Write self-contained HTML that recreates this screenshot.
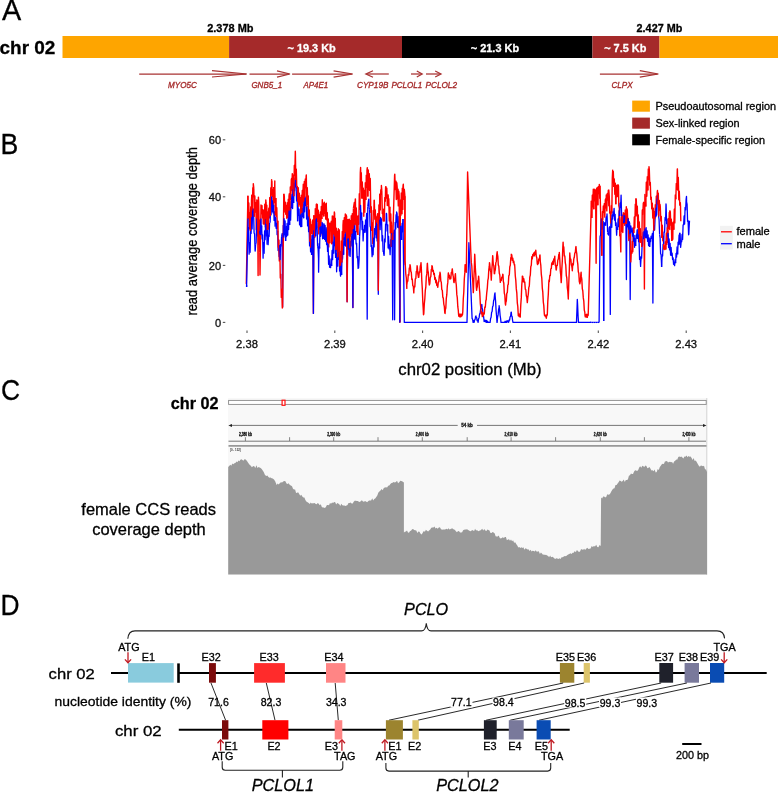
<!DOCTYPE html>
<html><head><meta charset="utf-8">
<style>
html,body{margin:0;padding:0;background:#fff;}
body{width:778px;height:792px;overflow:hidden;position:relative;}
svg{position:absolute;left:0;top:0;will-change:transform;}
text{font-family:"Liberation Sans",sans-serif;stroke:#000;stroke-width:0.3px;}
.wt{stroke:#fff;}
.gn text{stroke:#a52a2a;stroke-width:0.35px;}
.ns{stroke:none;}
.b{font-weight:bold;}
.i{font-style:italic;}
</style></head><body>
<svg width="778" height="792" viewBox="0 0 778 792">
<!-- ===== Panel A ===== -->
<text x="2.1" y="19.8" font-size="28.8" fill="#000">A</text>
<text x="-0.5" y="53.7" font-size="19" class="b" textLength="55.9" lengthAdjust="spacingAndGlyphs">chr 02</text>
<rect x="62.5" y="36" width="166.6" height="22" fill="#fea500"/>
<rect x="229.1" y="36" width="172.9" height="22" fill="#a52a2a"/>
<rect x="402" y="36" width="190.4" height="22" fill="#000"/>
<rect x="592.4" y="36" width="67.1" height="22" fill="#a52a2a"/>
<rect x="659.5" y="36" width="118.5" height="22" fill="#fea500"/>
<text x="207.2" y="31.5" font-size="11" class="b" textLength="46.3" lengthAdjust="spacingAndGlyphs">2.378 Mb</text>
<text x="636.6" y="31.5" font-size="11" class="b" textLength="45.7" lengthAdjust="spacingAndGlyphs">2.427 Mb</text>
<text x="287.5" y="51.8" font-size="11" class="b wt" fill="#fff" textLength="48.3" lengthAdjust="spacingAndGlyphs">~ 19.3 Kb</text>
<text x="470.8" y="51.8" font-size="11" class="b wt" fill="#fff" textLength="48.3" lengthAdjust="spacingAndGlyphs">~ 21.3 Kb</text>
<text x="604.2" y="52" font-size="11" class="b wt" fill="#fff" textLength="42.2" lengthAdjust="spacingAndGlyphs">~ 7.5 Kb</text>
<g stroke="#a83232" fill="none" stroke-width="1.25">
<line x1="139.2" y1="74" x2="246" y2="74"/><polyline points="212,70.6 247,74 212,77"/>
<line x1="249.5" y1="74" x2="289" y2="74"/><polyline points="277,70.8 290,74 277,77.2"/>
<line x1="292.1" y1="74" x2="351.8" y2="74"/><polyline points="333.6,70.8 352.8,74 333.6,77.2"/>
<line x1="367" y1="74" x2="388.8" y2="74"/><polyline points="373,70.8 365.9,74 373,77.2"/>
<line x1="411" y1="74" x2="421.5" y2="74"/><polyline points="416.8,71 422.2,74 416.8,77"/>
<line x1="426" y1="74" x2="440.3" y2="74"/><polyline points="435.2,71 441,74 435.2,77"/>
<line x1="599.9" y1="74" x2="657.4" y2="74"/><polyline points="639.8,70.6 658.4,74 639.8,77.2"/>
</g>
<g class="gn" fill="#a52a2a" font-size="9" font-style="italic">
<text x="168.1" y="88.3" textLength="28.7" lengthAdjust="spacingAndGlyphs">MYO5C</text>
<text x="251.4" y="88.3" textLength="30.7" lengthAdjust="spacingAndGlyphs">GNB5_1</text>
<text x="303.5" y="88.3" textLength="24.7" lengthAdjust="spacingAndGlyphs">AP4E1</text>
<text x="357" y="88.3" textLength="31.4" lengthAdjust="spacingAndGlyphs">CYP19B</text>
<text x="391.4" y="88.3" textLength="30.8" lengthAdjust="spacingAndGlyphs">PCLOL1</text>
<text x="425.5" y="88.3" textLength="31.5" lengthAdjust="spacingAndGlyphs">PCLOL2</text>
<text x="611.5" y="88.3" textLength="21.2" lengthAdjust="spacingAndGlyphs">CLPX</text>
</g>
<rect x="632.2" y="100.6" width="17.7" height="11.1" fill="#fea500"/>
<rect x="632.2" y="117.6" width="17.7" height="11.1" fill="#a52a2a"/>
<rect x="632.2" y="134.2" width="17.7" height="11.1" fill="#000"/>
<g font-size="10.9">
<text x="655.5" y="110.4" textLength="120.5" lengthAdjust="spacingAndGlyphs">Pseudoautosomal region</text>
<text x="655.5" y="127.3">Sex-linked region</text>
<text x="655.5" y="143.6">Female-specific region</text>
</g>
<!-- ===== Panel B ===== -->
<text x="0.5" y="153.7" font-size="28.8" textLength="17.8" lengthAdjust="spacingAndGlyphs">B</text>
<text transform="translate(196.8,315.6) rotate(-90)" x="0" y="0" font-size="14.2" textLength="168.4" lengthAdjust="spacingAndGlyphs">read average coverage depth</text>
<g font-size="11.1" text-anchor="end" fill="#222">
<text x="221.2" y="143.9">60</text>
<text x="221.2" y="200.8">40</text>
<text x="221.2" y="269.6">20</text>
<text x="221.2" y="326.6">0</text>
</g>
<g stroke="#555" stroke-width="1.1">
<line x1="222.8" y1="139.8" x2="225.3" y2="139.8"/>
<line x1="222.8" y1="196.8" x2="225.3" y2="196.8"/>
<line x1="222.8" y1="265.4" x2="225.3" y2="265.4"/>
<line x1="222.8" y1="322.4" x2="225.3" y2="322.4"/>
<line x1="247" y1="330.4" x2="247" y2="333"/>
<line x1="334.8" y1="330.4" x2="334.8" y2="333"/>
<line x1="422.6" y1="330.4" x2="422.6" y2="333"/>
<line x1="510.4" y1="330.4" x2="510.4" y2="333"/>
<line x1="598.3" y1="330.4" x2="598.3" y2="333"/>
<line x1="686.2" y1="330.4" x2="686.2" y2="333"/>
</g>
<g font-size="11.2" text-anchor="middle" fill="#222">
<text x="247" y="347.9">2.38</text>
<text x="334.8" y="347.9">2.39</text>
<text x="422.6" y="347.9">2.40</text>
<text x="510.4" y="347.9">2.41</text>
<text x="598.3" y="347.9">2.42</text>
<text x="686.2" y="347.9">2.43</text>
</g>
<text x="398.3" y="375.2" font-size="16.5" textLength="143.4" lengthAdjust="spacingAndGlyphs">chr02 position (Mb)</text>
<g fill="none" stroke-linejoin="round">
<polyline points="404.3,322.4 404.6,322.4 405.1,322.4 405.6,322.4 406.1,322.4 406.6,322.4 407.1,322.4 407.6,322.4 408.1,322.4 408.6,322.4 409.1,322.4 409.6,322.4 410.1,322.4 410.6,322.4 411.1,322.4 411.6,322.4 412.1,322.4 412.6,322.4 413.1,322.4 413.6,322.4 414.1,322.4 414.6,322.4 415.1,322.4 415.6,322.4 416.1,322.4 416.6,322.4 417.1,322.4 417.6,322.4 418.1,322.4 418.6,322.4 419.1,322.4 419.6,322.4 420.1,322.4 420.6,322.4 421.1,322.4 421.6,322.4 422.1,322.4 422.6,322.4 423.1,322.4 423.6,322.4 424.1,322.4 424.6,322.4 425.1,322.4 425.6,322.4 426.1,322.4 426.6,322.4 427.1,322.4 427.6,322.4 428.1,322.4 428.6,322.4 429.1,322.4 429.6,322.4 430.1,322.4 430.6,322.4 431.1,322.4 431.6,322.4 432.1,322.4 432.6,322.4 433.1,322.4 433.6,322.4 434.1,322.4 434.6,322.4 435.1,322.4 435.6,322.4 436.1,322.4 436.6,322.4 437.1,322.4 437.6,322.4 438.1,322.4 438.6,322.4 439.1,322.4 439.6,322.4 440.1,322.4 440.6,322.4 441.1,322.4 441.6,322.4 442.1,322.4 442.6,322.4 443.1,322.4 443.6,322.4 444.1,322.4 444.6,322.4 445.1,322.4 445.6,322.4 446.1,322.4 446.6,322.4 447.1,322.4 447.6,322.4 448.1,322.4 448.6,322.4 449.1,322.4 449.6,322.4 450.1,322.4 450.6,322.4 451.1,322.4 451.6,322.4 452.1,322.4 452.6,322.4 453.1,322.4 453.6,322.4 454.1,322.4 454.6,322.4 455.1,322.4 455.6,322.4 456.1,322.4 456.6,322.4 457.1,322.4 457.6,322.4 458.1,322.4 458.6,322.4 459.1,322.4 459.6,322.4 460.1,322.4 460.6,322.4 461.1,322.4 461.6,322.4 462.1,322.4 462.6,322.4 463.1,322.4 463.6,322.4 464.1,322.4 464.6,322.4 465.1,322.4 465.6,322.4 466.1,322.4 466.6,322.4 467.0,322.4 468.9,242.7 472.1,318.5 472.6,319.2 473.1,322.3 473.6,320.6 474.0,322.0 474.1,322.4 474.6,320.0 475.1,319.5 475.6,316.4 476.0,316.0 476.1,317.3 476.6,317.3 477.1,320.6 477.6,320.3 478.0,322.0 478.1,322.4 478.6,318.6 479.1,317.7 479.6,314.0 480.1,313.3 480.6,309.5 481.1,308.7 481.6,305.1 481.8,304.4 482.1,307.9 482.6,309.7 483.1,314.7 483.6,316.6 484.0,320.0 484.1,321.5 484.6,320.2 485.1,321.4 485.6,320.3 486.1,322.4 486.6,320.3 487.1,322.4 487.6,321.4 488.1,322.4 488.6,322.4 489.1,322.4 489.6,322.4 490.0,322.4 490.1,322.4 490.6,318.5 491.1,317.3 491.6,312.4 492.1,311.5 492.6,306.6 493.1,305.9 493.6,300.8 494.1,299.3 494.6,294.5 495.0,292.8 495.1,295.2 495.6,301.4 496.1,310.8 496.6,316.4 497.0,322.4 497.1,322.4 497.6,317.1 498.1,314.9 498.6,309.4 499.1,307.4 499.1,305.7 499.6,309.4 500.1,315.3 500.6,318.5 501.0,322.4 501.1,322.4 501.6,322.4 502.1,322.4 502.6,322.4 503.1,322.4 503.6,322.4 504.1,322.4 504.6,322.4 505.1,321.3 505.6,322.4 506.1,321.4 506.6,322.4 507.1,320.7 507.6,321.9 508.1,321.0 508.6,322.4 509.0,321.0 509.1,320.0 509.6,320.2 510.1,316.7 510.6,316.4 511.1,312.1 511.3,312.1 511.6,315.9 512.1,316.4 512.6,320.6 513.0,322.4 513.1,322.4 513.6,322.4 514.1,322.4 514.6,322.4 515.1,322.4 515.6,322.4 516.1,322.4 516.6,322.4 517.1,322.4 517.6,322.4 518.1,322.4 518.6,322.4 519.1,322.4 519.6,322.4 520.1,322.4 520.6,322.4 521.1,322.4 521.6,322.4 522.1,322.4 522.6,322.4 523.1,322.4 523.6,322.4 524.1,322.4 524.6,322.4 525.1,322.4 525.6,322.4 526.1,322.4 526.6,322.4 527.1,322.4 527.6,322.4 528.1,322.4 528.6,322.4 529.1,322.4 529.6,322.4 530.1,322.4 530.6,322.4 531.1,322.4 531.6,322.4 532.1,322.4 532.6,322.4 533.1,322.4 533.6,322.4 534.1,322.4 534.6,322.4 535.1,322.4 535.6,322.4 536.1,322.4 536.6,322.4 537.1,322.4 537.6,322.4 538.1,322.4 538.6,322.4 539.1,322.4 539.6,322.4 540.1,322.4 540.6,322.4 541.1,322.4 541.6,322.4 542.1,322.4 542.6,322.4 543.1,322.4 543.6,322.4 544.1,322.4 544.6,322.4 545.1,322.4 545.6,322.4 546.1,322.4 546.6,322.4 547.1,322.4 547.6,322.4 548.1,322.4 548.6,322.4 549.1,322.4 549.6,322.4 550.1,322.4 550.6,322.4 551.1,322.4 551.6,322.4 552.1,322.4 552.6,322.4 553.1,322.4 553.6,322.4 554.1,322.4 554.6,322.4 555.1,322.4 555.6,322.4 556.1,322.4 556.6,322.4 557.1,322.4 557.6,322.4 558.1,322.4 558.6,322.4 559.1,322.4 559.6,322.4 560.1,322.4 560.6,322.4 561.1,322.4 561.6,322.4 562.1,322.4 562.6,322.4 563.1,322.4 563.6,322.4 564.1,322.4 564.6,322.4 565.1,322.4 565.6,322.4 566.1,322.4 566.6,322.4 567.1,322.4 567.6,322.4 568.1,322.4 568.6,322.4 569.1,322.4 569.6,322.4 570.1,322.4 570.6,322.4 571.1,322.4 571.6,322.4 572.1,322.4 572.6,322.4 573.1,322.4 573.6,322.4 574.1,322.4 574.6,322.4 575.1,322.4 575.6,322.4 576.1,322.4 576.5,322.4 576.6,318.8 577.1,306.0 577.3,299.3 577.6,304.6 578.1,316.6 578.5,322.4 578.6,322.4 579.1,322.4 579.6,322.4 580.1,322.4 580.6,322.4 581.1,322.4 581.6,322.4 582.1,322.4 582.6,322.4 583.1,322.4 583.6,322.4 584.1,322.4 584.6,322.4 585.1,322.4 585.6,322.4 586.1,322.4 586.6,322.4 587.1,322.4 587.6,322.4 588.1,322.4 588.6,322.4 589.1,322.4 589.6,322.4 590.1,322.4 590.6,322.4 591.1,322.4" stroke="#0000ff" stroke-width="1.3"/>
<polyline points="403.8,199.8 404.3,189.4 404.8,198.7 404.9,196.4 404.9,260.7 405.3,265.2 405.8,274.1 406.3,277.8 406.8,288.4 406.8,285.1 407.3,281.4 407.8,281.1 408.3,274.4 408.8,275.3 409.3,268.0 409.8,268.1 410.0,264.6 410.3,265.8 410.8,271.4 411.3,272.3 411.8,279.5 412.3,279.0 412.8,285.9 413.3,286.1 413.8,292.9 413.9,290.3 414.3,286.1 414.8,286.9 415.3,278.9 415.8,278.7 416.3,271.5 416.8,271.4 417.1,265.8 417.3,266.6 417.8,273.9 418.3,276.4 418.4,277.4 418.8,277.3 419.3,271.6 419.8,272.4 420.3,266.0 420.8,264.9 421.0,262.6 421.3,267.9 421.8,280.5 422.3,288.7 422.8,301.6 423.3,310.1 423.5,314.7 423.8,313.7 424.3,304.0 424.8,299.0 425.3,290.4 425.8,287.2 426.3,276.8 426.8,273.9 427.3,263.5 427.4,263.3 427.8,270.1 428.3,272.5 428.8,280.6 429.3,284.8 429.3,285.1 429.8,283.7 430.3,277.3 430.8,276.8 431.3,269.5 431.8,268.9 431.9,265.8 432.3,266.2 432.8,271.4 433.3,270.4 433.8,274.5 434.3,273.3 434.8,279.4 435.3,277.6 435.8,282.8 436.3,280.3 436.8,285.5 437.3,284.3 437.7,286.4 437.8,287.3 438.3,282.1 438.8,281.9 439.3,275.9 439.8,274.6 440.0,272.3 440.3,273.6 440.8,281.1 441.3,282.3 441.8,289.8 442.3,290.2 442.8,297.1 443.3,298.1 443.8,304.1 444.3,306.3 444.8,313.0 445.1,313.4 445.3,309.8 445.8,308.1 446.3,298.3 446.8,294.7 447.3,286.2 447.8,282.4 448.3,273.1 448.4,272.9 448.8,277.4 449.3,275.1 449.8,279.0 450.3,278.5 450.3,278.7 450.8,278.7 451.3,272.5 451.8,272.5 452.2,269.1 452.3,268.9 452.8,274.5 453.3,276.7 453.8,282.1 454.1,282.6 454.3,280.4 454.8,279.6 455.3,273.9 455.4,273.6 455.8,281.3 456.3,285.0 456.8,294.4 457.3,297.9 457.8,306.7 458.3,310.5 458.6,314.7 458.8,316.2 459.3,314.1 459.8,316.8 460.3,314.2 460.8,316.8 461.3,314.1 461.8,316.1 462.3,314.5 462.5,314.7 462.8,311.5 463.3,298.5 463.8,292.0 464.3,279.0 464.8,272.9 465.1,264.6 465.3,264.9 465.8,270.7 466.3,271.4 466.3,272.3 467.6,172.0 470.8,251.7 471.3,262.4 471.8,266.0 472.3,276.5 472.8,282.0 473.3,292.6 473.4,291.6 473.8,279.9 474.3,269.3 474.7,254.3 474.8,255.1 475.3,267.0 475.8,274.9 476.3,287.4 476.6,290.3 476.8,288.6 477.3,286.6 477.8,280.8 478.3,280.3 478.6,276.1 478.8,278.0 479.3,287.5 479.8,292.9 480.3,303.3 480.8,307.8 481.1,312.1 481.3,313.8 481.8,312.0 482.3,316.6 482.8,312.6 483.3,315.6 483.7,314.7 483.8,313.5 484.3,313.8 484.8,307.0 485.3,307.2 485.8,301.0 486.3,299.2 486.3,298.0 486.8,292.3 487.3,288.1 487.8,280.7 488.3,278.2 488.8,269.7 489.3,266.2 489.5,262.6 489.8,264.7 490.3,270.4 490.8,271.7 491.3,280.1 491.4,277.4 491.8,269.6 492.3,263.6 492.7,255.6 492.8,256.5 493.3,264.7 493.8,265.5 494.3,273.7 494.6,273.6 494.8,271.5 495.3,269.9 495.8,262.9 496.3,261.4 496.8,254.3 497.2,251.7 497.3,253.7 497.8,256.4 498.3,265.0 498.8,266.3 499.3,273.3 499.8,274.9 500.3,282.4 500.4,281.3 500.8,280.1 501.3,280.5 501.8,277.2 502.3,277.6 502.8,274.2 503.0,274.8 503.3,281.3 503.8,283.2 504.3,293.1 504.8,295.0 505.3,303.6 505.6,305.0 505.8,302.5 506.3,301.1 506.8,293.1 507.3,292.9 507.8,285.1 508.3,284.3 508.8,275.6 509.3,275.0 509.8,266.7 510.3,265.2 510.8,257.7 511.3,257.5 511.3,254.3 511.8,255.0 512.3,260.4 512.8,258.1 513.3,262.6 513.8,261.2 514.3,264.9 514.6,264.6 514.8,266.8 515.3,276.0 515.8,280.4 516.3,288.9 516.8,292.8 517.3,302.8 517.8,306.5 518.3,315.7 518.4,314.7 518.8,313.9 519.3,316.6 519.8,313.9 520.3,317.1 520.3,314.7 520.8,304.4 521.3,297.4 521.8,284.6 522.3,278.7 522.3,276.1 522.8,276.6 523.3,281.6 523.8,278.8 524.3,282.4 524.8,281.9 524.8,282.6 525.3,289.2 525.8,289.7 526.3,295.7 526.8,297.3 527.3,302.6 527.4,301.8 527.8,297.4 528.3,294.1 528.8,287.5 529.3,286.1 529.8,277.2 530.3,275.2 530.8,266.7 531.3,265.3 531.8,256.7 531.9,256.9 532.3,258.8 532.8,254.4 533.3,255.8 533.8,253.0 534.3,255.8 534.8,252.0 535.3,254.6 535.8,250.2 535.8,250.4 536.3,256.3 536.8,257.7 537.3,263.9 537.7,264.6 537.8,263.4 538.3,263.3 538.8,258.9 539.3,260.0 539.8,255.2 540.0,255.0 540.3,261.5 540.8,265.3 541.3,274.2 541.8,278.3 542.3,288.2 542.8,292.2 543.3,302.0 543.8,305.6 544.3,313.7 544.5,315.3 544.8,315.0 545.3,316.5 545.8,315.1 546.3,318.2 546.8,314.8 547.1,315.3 547.3,314.8 547.8,301.4 548.3,294.2 548.8,282.5 549.0,280.0 549.3,281.6 549.8,275.2 550.3,275.6 550.8,268.8 551.3,268.6 551.6,264.6 551.8,263.0 552.3,264.7 552.8,261.3 553.3,264.2 553.8,258.9 554.3,260.8 554.8,256.3 554.8,257.5 555.3,265.2 555.8,266.2 556.1,269.7 556.3,270.0 556.8,265.2 557.3,265.4 557.8,260.3 558.3,259.0 558.8,254.5 559.3,253.8 559.3,252.4 559.8,259.8 560.3,271.0 560.8,275.7 561.2,282.6 561.3,282.2 561.8,269.1 562.3,261.2 562.8,247.6 563.1,242.1 563.3,246.2 563.8,247.0 564.3,255.9 564.8,255.9 565.3,262.8 565.7,264.6 565.8,265.7 566.3,275.5 566.8,277.8 567.3,287.7 567.8,291.1 568.3,299.0 568.3,298.0 568.8,282.4 569.3,270.8 569.8,252.9 569.8,253.6 570.3,259.4 570.8,259.1 571.3,264.8 571.8,266.2 572.1,268.4 572.3,270.7 572.8,263.4 573.3,264.9 573.8,258.9 574.3,257.3 574.8,253.0 575.3,252.6 575.8,247.0 576.0,246.6 576.3,250.8 576.8,253.8 577.3,260.6 577.8,264.1 578.3,271.8 578.8,273.3 579.3,281.5 579.8,283.4 579.8,283.8 580.3,281.6 580.8,274.7 581.1,272.3 581.3,276.4 581.8,279.1 582.3,288.6 582.8,291.0 583.3,297.9 583.8,301.1 584.3,310.2 584.8,312.2 585.0,315.3 585.3,316.9 585.8,314.8 586.3,317.0 586.8,314.3 587.3,317.3 587.8,314.5 588.2,315.3 591.4,200.8" stroke="#ff0000" stroke-width="1.4"/>
<path d="M246.6,285.1 L246.6,287.0" stroke="#0000ff" stroke-width="1.3"/>
<path d="M246.3,282.0 L246.3,283.8 L247.9,195.8" stroke="#ff0000" stroke-width="1.4"/>
<path d="M247.9,195.8 L248.3,218.6 L248.8,202.9 L249.3,228.9 L249.5,215.0 L249.8,211.9" stroke="#ff0000" stroke-width="1.4"/>
<path d="M246.6,287.0 L248.0,219.0 L248.1,233.9 L248.6,227.4 L249.1,254.2 L249.5,246.0 L249.6,242.3" stroke="#0000ff" stroke-width="1.3"/>
<path d="M249.6,242.3 L250.1,252.3 L250.6,229.8 L251.0,224.0 L251.1,233.4 L251.6,217.3" stroke="#0000ff" stroke-width="1.3"/>
<path d="M249.8,211.9 L250.3,230.6 L250.4,211.8 L250.8,206.8 L251.3,219.3 L251.5,200.0 L251.8,194.7" stroke="#ff0000" stroke-width="1.4"/>
<path d="M251.8,194.7 L252.3,214.9 L252.8,187.8 L253.3,196.9 L253.3,183.6 L253.8,188.3" stroke="#ff0000" stroke-width="1.4"/>
<path d="M251.6,217.3 L252.1,228.9 L252.6,210.9 L253.1,216.4 L253.3,209.0 L253.6,213.7" stroke="#0000ff" stroke-width="1.3"/>
<path d="M253.6,213.7 L254.1,233.0 L254.6,234.0 L255.1,251.0 L255.3,250.0 L255.6,244.5" stroke="#0000ff" stroke-width="1.3"/>
<path d="M253.8,188.3 L254.3,216.2 L254.8,195.9 L255.3,212.2 L255.6,206.7 L255.8,202.1" stroke="#ff0000" stroke-width="1.4"/>
<path d="M255.8,202.1 L256.3,229.7 L256.8,200.0 L257.6,200.0" stroke="#ff0000" stroke-width="1.4"/>
<path d="M255.6,244.5 L256.1,242.6 L256.6,225.5 L257.0,219.0 L257.1,235.1 L257.6,222.7" stroke="#0000ff" stroke-width="1.3"/>
<path d="M257.6,222.7 L258.1,236.6 L258.6,232.6 L259.0,239.0 L259.1,244.4 L259.6,231.1" stroke="#0000ff" stroke-width="1.3"/>
<path d="M257.6,200.0 L258.1,275.5 L258.4,197.1 L258.7,202.3 L259.3,234.8 L259.5,220.0 L259.8,252.4" stroke="#ff0000" stroke-width="1.4"/>
<path d="M259.8,252.4 L260.0,275.0 L261.0,205.0 L261.3,214.0 L261.8,205.3" stroke="#ff0000" stroke-width="1.4"/>
<path d="M259.6,231.1 L260.1,234.2 L260.6,223.0 L261.0,219.0 L261.1,234.7 L261.6,225.4" stroke="#0000ff" stroke-width="1.3"/>
<path d="M261.6,225.4 L262.1,239.1 L262.6,234.8 L263.1,258.2 L263.3,246.0 L263.6,242.0" stroke="#0000ff" stroke-width="1.3"/>
<path d="M261.8,205.3 L262.3,217.7 L262.8,209.6 L263.3,224.0 L263.3,211.8 L263.8,209.7" stroke="#ff0000" stroke-width="1.4"/>
<path d="M263.8,209.7 L264.3,224.1 L264.8,204.2 L265.3,227.1 L265.8,199.9 L265.9,201.6" stroke="#ff0000" stroke-width="1.4"/>
<path d="M263.6,242.0 L264.1,253.3 L264.6,230.9 L265.1,239.7 L265.6,221.5 L265.9,219.0" stroke="#0000ff" stroke-width="1.3"/>
<path d="M265.9,219.0 L266.1,235.9 L266.6,222.5 L267.1,244.2 L267.6,229.9" stroke="#0000ff" stroke-width="1.3"/>
<path d="M265.9,201.6 L266.3,223.5 L266.8,205.1 L267.3,230.1 L267.8,211.5" stroke="#ff0000" stroke-width="1.4"/>
<path d="M267.8,211.5 L268.3,229.2 L268.4,217.0 L268.8,208.3 L269.3,218.0 L269.8,197.3" stroke="#ff0000" stroke-width="1.4"/>
<path d="M267.6,229.9 L268.1,244.7 L268.4,239.0 L268.6,235.3 L269.1,236.4 L269.6,222.7" stroke="#0000ff" stroke-width="1.3"/>
<path d="M269.6,222.7 L270.1,222.0 L270.6,208.9 L271.1,214.8 L271.6,196.6 L271.6,196.6" stroke="#0000ff" stroke-width="1.3"/>
<path d="M269.8,197.3 L270.3,215.5 L270.8,187.8 L271.3,195.2 L271.6,179.7 L271.8,180.7" stroke="#ff0000" stroke-width="1.4"/>
<path d="M271.8,180.7 L272.3,196.4 L272.8,189.7 L273.0,195.0 L273.3,208.4 L273.8,187.1" stroke="#ff0000" stroke-width="1.4"/>
<path d="M271.6,196.6 L272.1,211.7 L272.6,201.0 L273.1,213.0 L273.6,205.0" stroke="#0000ff" stroke-width="1.3"/>
<path d="M273.6,205.0 L274.1,220.4 L274.6,212.0 L274.8,214.0 L275.1,226.2 L275.6,217.3" stroke="#0000ff" stroke-width="1.3"/>
<path d="M273.8,187.1 L274.3,202.5 L274.8,181.0 L274.8,184.8 L275.3,214.7 L275.8,198.1" stroke="#ff0000" stroke-width="1.4"/>
<path d="M275.8,198.1 L276.3,216.3 L276.8,207.7 L277.3,228.3 L277.8,220.7" stroke="#ff0000" stroke-width="1.4"/>
<path d="M275.6,217.3 L276.1,228.3 L276.6,223.3 L277.0,229.0 L277.1,234.7 L277.6,230.8" stroke="#0000ff" stroke-width="1.3"/>
<path d="M277.6,230.8 L278.1,250.6 L278.6,239.6 L279.1,256.6 L279.6,245.2" stroke="#0000ff" stroke-width="1.3"/>
<path d="M277.8,220.7 L278.0,227.3 L278.3,247.2 L278.8,240.1 L279.3,261.0 L279.8,253.6" stroke="#ff0000" stroke-width="1.4"/>
<path d="M279.8,253.6 L280.0,260.0 L280.3,278.1 L280.8,274.1 L281.3,297.4 L281.8,288.7" stroke="#ff0000" stroke-width="1.4"/>
<path d="M279.6,245.2 L280.0,249.0 L280.1,259.5 L280.6,244.5 L281.1,246.1 L281.6,236.5" stroke="#0000ff" stroke-width="1.3"/>
<path d="M281.6,236.5 L282.1,233.6 L282.6,307.0 L283.2,225.4 L283.6,237.5" stroke="#0000ff" stroke-width="1.3"/>
<path d="M281.8,288.7 L282.3,308.0 L282.6,307.0 L283.8,193.8" stroke="#ff0000" stroke-width="1.4"/>
<path d="M283.8,193.8 L284.3,196.3 L284.8,212.0 L285.3,202.3 L285.8,214.6" stroke="#ff0000" stroke-width="1.4"/>
<path d="M283.6,237.5 L284.0,219.0 L284.1,218.8 L284.6,234.8 L285.1,220.8 L285.6,241.0" stroke="#0000ff" stroke-width="1.3"/>
<path d="M285.6,241.0 L286.1,226.7 L286.4,229.0 L286.6,236.6 L287.1,223.4 L287.6,235.6" stroke="#0000ff" stroke-width="1.3"/>
<path d="M285.8,214.6 L286.3,205.5 L286.4,209.3 L286.8,218.3 L287.3,202.6 L287.8,218.3" stroke="#ff0000" stroke-width="1.4"/>
<path d="M287.8,218.3 L288.3,199.1 L288.8,218.5 L289.0,196.4 L289.3,193.8 L289.8,210.4" stroke="#ff0000" stroke-width="1.4"/>
<path d="M287.6,235.6 L288.1,218.9 L288.6,229.5 L289.0,214.0 L289.1,211.0 L289.6,225.0" stroke="#0000ff" stroke-width="1.3"/>
<path d="M289.6,225.0 L290.1,207.5 L290.6,220.2 L291.1,201.6 L291.6,207.6 L291.6,199.0" stroke="#0000ff" stroke-width="1.3"/>
<path d="M289.8,210.4 L290.3,186.9 L290.8,199.4 L291.3,179.6 L291.6,178.4 L291.8,190.8" stroke="#ff0000" stroke-width="1.4"/>
<path d="M291.8,190.8 L292.3,173.6 L292.8,199.2 L293.3,174.9 L293.5,175.8 L293.8,196.2" stroke="#ff0000" stroke-width="1.4"/>
<path d="M291.6,199.0 L292.1,194.4 L292.6,208.5 L293.1,189.7 L293.6,203.0" stroke="#0000ff" stroke-width="1.3"/>
<path d="M293.6,203.0 L294.1,183.5 L294.6,190.6 L295.1,178.6 L295.4,177.9 L295.6,187.4" stroke="#0000ff" stroke-width="1.3"/>
<path d="M293.8,196.2 L294.3,165.5 L294.8,175.4 L295.3,151.2 L295.4,153.4 L295.8,180.0" stroke="#ff0000" stroke-width="1.4"/>
<path d="M295.8,180.0 L296.3,169.1 L296.8,188.4 L297.3,186.5 L297.3,187.4 L297.8,201.7" stroke="#ff0000" stroke-width="1.4"/>
<path d="M295.6,187.4 L296.1,187.3 L296.6,200.9 L297.1,199.2 L297.3,204.0 L297.6,221.3" stroke="#0000ff" stroke-width="1.3"/>
<path d="M297.6,221.3 L298.1,207.2 L298.6,215.3 L299.1,209.2 L299.6,225.2" stroke="#0000ff" stroke-width="1.3"/>
<path d="M297.8,201.7 L298.3,187.8 L298.8,206.5 L299.3,193.2 L299.8,205.3" stroke="#ff0000" stroke-width="1.4"/>
<path d="M299.8,205.3 L300.3,197.6 L300.6,199.0 L300.8,216.6 L301.3,195.1 L301.8,212.8" stroke="#ff0000" stroke-width="1.4"/>
<path d="M299.6,225.2 L300.1,215.5 L300.6,226.5 L300.6,219.0 L301.1,214.2 L301.6,227.1" stroke="#0000ff" stroke-width="1.3"/>
<path d="M301.6,227.1 L302.1,208.6 L302.6,216.5 L303.1,203.8 L303.1,204.0 L303.6,218.2" stroke="#0000ff" stroke-width="1.3"/>
<path d="M301.8,212.8 L302.3,190.5 L302.8,206.0 L303.1,188.7 L303.3,184.1 L303.8,202.5" stroke="#ff0000" stroke-width="1.4"/>
<path d="M303.8,202.5 L304.3,181.5 L304.8,205.4 L305.3,179.0 L305.8,188.3" stroke="#ff0000" stroke-width="1.4"/>
<path d="M303.6,218.2 L304.1,202.2 L304.6,211.8 L305.1,198.2 L305.6,206.1" stroke="#0000ff" stroke-width="1.3"/>
<path d="M305.6,206.1 L306.1,196.8 L306.1,199.0 L306.6,219.0 L307.1,206.2 L307.6,226.3" stroke="#0000ff" stroke-width="1.3"/>
<path d="M305.8,188.3 L306.1,176.5 L306.3,174.9 L306.8,206.3 L307.3,187.8 L307.8,205.1" stroke="#ff0000" stroke-width="1.4"/>
<path d="M307.8,205.1 L308.3,196.0 L308.3,199.0 L308.8,229.8 L309.3,210.0 L309.8,241.8" stroke="#ff0000" stroke-width="1.4"/>
<path d="M307.6,226.3 L308.1,216.9 L308.3,219.0 L308.6,231.7 L309.1,226.6 L309.6,246.3" stroke="#0000ff" stroke-width="1.3"/>
<path d="M309.6,246.3 L310.1,236.1 L310.6,251.9 L310.8,244.0 L311.1,239.7 L311.6,254.9" stroke="#0000ff" stroke-width="1.3"/>
<path d="M309.8,241.8 L310.3,219.1 L310.8,247.3 L310.8,228.5 L311.3,224.7 L311.8,234.0" stroke="#ff0000" stroke-width="1.4"/>
<path d="M311.8,234.0 L312.3,222.0 L312.8,219.9 L313.4,313.4 L313.9,215.2" stroke="#ff0000" stroke-width="1.4"/>
<path d="M311.6,254.9 L312.1,235.5 L312.8,235.2 L313.4,313.4 L313.9,230.4" stroke="#0000ff" stroke-width="1.3"/>
<path d="M313.9,230.4 L314.6,237.5 L315.1,224.0 L315.6,236.3" stroke="#0000ff" stroke-width="1.3"/>
<path d="M313.9,215.2 L314.8,237.0 L315.3,208.6 L315.8,228.1" stroke="#ff0000" stroke-width="1.4"/>
<path d="M315.8,228.1 L316.3,204.3 L316.6,204.1 L316.8,227.7 L317.3,204.5 L317.8,222.1" stroke="#ff0000" stroke-width="1.4"/>
<path d="M315.6,236.3 L316.1,219.7 L316.6,227.1 L316.6,219.0 L317.1,228.1 L317.6,246.1" stroke="#0000ff" stroke-width="1.3"/>
<path d="M317.6,246.1 L318.1,248.9 L318.5,258.3 L318.6,272.2 L319.1,243.7 L319.6,248.6" stroke="#0000ff" stroke-width="1.3"/>
<path d="M317.8,222.1 L318.3,210.3 L318.8,233.9 L319.3,214.7 L319.8,229.0 L319.8,217.0" stroke="#ff0000" stroke-width="1.4"/>
<path d="M319.8,217.0 L320.3,212.0 L320.8,234.9 L321.3,206.4 L321.8,219.0" stroke="#ff0000" stroke-width="1.4"/>
<path d="M319.6,248.6 L320.0,229.0 L320.1,227.3 L320.6,236.3 L321.1,226.4 L321.6,233.5" stroke="#0000ff" stroke-width="1.3"/>
<path d="M321.6,233.5 L322.1,222.3 L322.4,224.0 L322.6,238.8 L323.1,223.8 L323.6,239.1" stroke="#0000ff" stroke-width="1.3"/>
<path d="M321.8,219.0 L322.3,199.7 L322.4,202.8 L322.8,214.6 L323.3,203.3 L323.8,216.4" stroke="#ff0000" stroke-width="1.4"/>
<path d="M323.8,216.4 L324.3,202.3 L324.8,213.3 L325.3,204.0 L325.8,219.6" stroke="#ff0000" stroke-width="1.4"/>
<path d="M323.6,239.1 L324.1,223.9 L324.6,239.4 L325.1,225.5 L325.6,241.4" stroke="#0000ff" stroke-width="1.3"/>
<path d="M325.6,241.4 L326.1,227.7 L326.3,229.0 L326.6,244.7 L327.1,236.1 L327.6,252.1" stroke="#0000ff" stroke-width="1.3"/>
<path d="M325.8,219.6 L326.3,203.1 L326.3,205.4 L326.8,220.0 L327.3,212.7 L327.8,242.6" stroke="#ff0000" stroke-width="1.4"/>
<path d="M327.8,242.6 L328.3,219.0 L328.8,247.1 L328.8,227.3 L329.3,223.3 L329.8,243.3" stroke="#ff0000" stroke-width="1.4"/>
<path d="M327.6,252.1 L328.1,244.5 L328.6,264.3 L329.1,255.8 L329.6,267.6" stroke="#0000ff" stroke-width="1.3"/>
<path d="M329.6,267.6 L330.1,264.7 L330.1,266.6 L330.6,267.6 L331.1,258.9 L331.6,266.0" stroke="#0000ff" stroke-width="1.3"/>
<path d="M329.8,243.3 L330.3,223.1 L330.8,230.8 L331.3,221.1 L331.8,244.3" stroke="#ff0000" stroke-width="1.4"/>
<path d="M331.8,244.3 L332.3,215.9 L332.8,242.8 L333.3,216.2 L333.8,234.4" stroke="#ff0000" stroke-width="1.4"/>
<path d="M331.6,266.0 L332.1,250.5 L332.6,259.7 L333.1,242.1 L333.6,253.6" stroke="#0000ff" stroke-width="1.3"/>
<path d="M333.6,253.6 L334.1,233.9 L334.6,245.7 L334.6,232.0 L335.1,237.9 L335.6,257.9" stroke="#0000ff" stroke-width="1.3"/>
<path d="M333.8,234.4 L334.3,211.9 L334.6,213.1 L334.8,236.0 L335.3,218.2 L335.8,250.0" stroke="#ff0000" stroke-width="1.4"/>
<path d="M335.8,250.0 L336.3,228.3 L336.8,250.9 L337.0,235.0 L337.3,231.3 L337.8,257.2" stroke="#ff0000" stroke-width="1.4"/>
<path d="M335.6,257.9 L336.1,250.5 L336.5,258.3 L336.6,271.8 L337.1,253.9 L337.6,266.5" stroke="#0000ff" stroke-width="1.3"/>
<path d="M337.6,266.5 L338.1,246.9 L338.6,259.3 L339.1,241.1 L339.1,244.0 L339.6,271.4" stroke="#0000ff" stroke-width="1.3"/>
<path d="M337.8,257.2 L338.3,228.8 L338.8,251.2 L339.1,229.8 L339.3,230.5 L339.8,267.8" stroke="#ff0000" stroke-width="1.4"/>
<path d="M339.8,267.8 L340.3,251.7 L340.4,255.0 L340.8,270.7 L341.3,241.0 L341.8,262.5" stroke="#ff0000" stroke-width="1.4"/>
<path d="M339.6,271.4 L340.1,266.3 L340.4,275.0 L340.6,276.0 L341.1,266.2 L341.6,274.9" stroke="#0000ff" stroke-width="1.3"/>
<path d="M341.6,274.9 L342.1,251.9 L342.6,258.9 L343.0,244.0 L343.1,241.6 L343.6,254.7" stroke="#0000ff" stroke-width="1.3"/>
<path d="M341.8,262.5 L342.3,231.4 L342.8,249.5 L343.0,225.0 L343.3,220.4 L343.8,240.2" stroke="#ff0000" stroke-width="1.4"/>
<path d="M343.8,240.2 L344.3,217.6 L344.8,232.9 L345.3,214.0 L345.8,233.3 L345.8,214.4" stroke="#ff0000" stroke-width="1.4"/>
<path d="M343.6,254.7 L344.1,237.9 L344.6,245.0 L345.1,234.2 L345.6,246.0 L345.8,234.0" stroke="#0000ff" stroke-width="1.3"/>
<path d="M345.8,234.0 L346.1,232.7 L346.6,235.8 L347.1,301.8 L347.7,238.4" stroke="#0000ff" stroke-width="1.3"/>
<path d="M345.8,214.4 L346.6,216.3 L347.1,301.8 L347.7,219.1" stroke="#ff0000" stroke-width="1.4"/>
<path d="M347.7,219.1 L348.3,220.4 L348.8,241.4 L349.3,219.3 L349.8,248.3" stroke="#ff0000" stroke-width="1.4"/>
<path d="M347.7,238.4 L348.1,249.0 L348.6,238.8 L349.1,255.3 L349.6,241.1" stroke="#0000ff" stroke-width="1.3"/>
<path d="M349.6,241.1 L350.0,244.0 L350.1,256.4 L350.6,241.4 L351.1,245.9 L351.6,235.8" stroke="#0000ff" stroke-width="1.3"/>
<path d="M349.8,248.3 L350.0,225.0 L350.3,220.6 L350.8,236.0 L351.3,215.8 L351.8,234.7" stroke="#ff0000" stroke-width="1.4"/>
<path d="M351.8,234.7 L352.3,213.7 L352.9,307.6 L353.4,208.4" stroke="#ff0000" stroke-width="1.4"/>
<path d="M351.6,235.8 L352.3,234.0 L352.9,307.6 L353.4,229.3" stroke="#0000ff" stroke-width="1.3"/>
<path d="M353.4,229.3 L354.1,238.6 L354.6,223.7 L354.8,223.5 L355.1,239.5 L355.6,231.0" stroke="#0000ff" stroke-width="1.3"/>
<path d="M353.4,208.4 L354.3,202.5 L354.8,224.9 L355.3,199.1 L355.4,199.0 L355.8,224.5" stroke="#ff0000" stroke-width="1.4"/>
<path d="M355.8,224.5 L356.3,207.9 L356.8,231.7 L357.3,216.1 L357.8,235.0" stroke="#ff0000" stroke-width="1.4"/>
<path d="M355.6,231.0 L356.1,244.0 L356.6,243.2 L357.1,257.8 L357.6,256.1" stroke="#0000ff" stroke-width="1.3"/>
<path d="M357.6,256.1 L358.1,268.4 L358.6,267.0 L358.6,268.0 L359.1,259.5 L359.6,236.8" stroke="#0000ff" stroke-width="1.3"/>
<path d="M357.8,235.0 L358.0,225.0 L358.3,215.6 L358.8,224.2 L359.3,193.8 L359.8,209.7" stroke="#ff0000" stroke-width="1.4"/>
<path d="M359.8,209.7 L360.3,173.1 L360.6,167.5 L360.8,177.3 L361.3,172.6 L361.8,198.5" stroke="#ff0000" stroke-width="1.4"/>
<path d="M359.6,236.8 L360.1,227.3 L360.6,205.4 L360.6,206.8 L361.1,219.7 L361.6,212.6" stroke="#0000ff" stroke-width="1.3"/>
<path d="M361.6,212.6 L362.1,229.7 L362.6,221.4 L363.1,240.9 L363.6,229.8 L363.8,231.3" stroke="#0000ff" stroke-width="1.3"/>
<path d="M361.8,198.5 L362.3,182.0 L362.8,198.3 L363.3,188.3 L363.8,216.2 L363.8,196.4" stroke="#ff0000" stroke-width="1.4"/>
<path d="M363.8,196.4 L364.3,190.5 L364.8,212.2 L365.3,182.8 L365.8,199.9" stroke="#ff0000" stroke-width="1.4"/>
<path d="M363.8,231.3 L364.1,232.3 L364.6,225.4 L365.1,232.3 L365.6,219.6" stroke="#0000ff" stroke-width="1.3"/>
<path d="M365.6,219.6 L366.1,230.9 L366.6,213.3 L367.2,319.2 L367.8,206.4" stroke="#0000ff" stroke-width="1.3"/>
<path d="M365.8,199.9 L366.3,175.1 L366.8,187.4 L367.0,170.1 L367.3,167.7 L367.8,196.6" stroke="#ff0000" stroke-width="1.4"/>
<path d="M367.8,196.6 L368.3,170.0 L368.8,189.6 L369.3,173.7 L369.8,190.9" stroke="#ff0000" stroke-width="1.4"/>
<path d="M367.8,206.4 L368.6,199.9 L368.9,199.1 L369.1,207.8 L369.6,209.6" stroke="#0000ff" stroke-width="1.3"/>
<path d="M369.6,209.6 L370.1,226.2 L370.6,227.5 L371.1,246.6 L371.6,245.1" stroke="#0000ff" stroke-width="1.3"/>
<path d="M369.8,190.9 L370.2,178.4 L370.3,180.7 L370.8,212.4 L371.3,206.6 L371.8,231.0" stroke="#ff0000" stroke-width="1.4"/>
<path d="M371.8,231.0 L372.0,230.0 L372.3,222.9 L372.8,243.8 L373.3,210.5 L373.8,215.4" stroke="#ff0000" stroke-width="1.4"/>
<path d="M371.6,245.1 L372.1,256.7 L372.1,255.7 L372.6,248.1 L373.1,254.8 L373.6,237.7" stroke="#0000ff" stroke-width="1.3"/>
<path d="M373.6,237.7 L374.1,246.9 L374.6,228.6 L374.7,228.7 L375.1,234.5 L375.6,225.6" stroke="#0000ff" stroke-width="1.3"/>
<path d="M373.8,215.4 L374.1,200.3 L374.3,200.2 L374.8,219.2 L375.3,209.9 L375.8,230.4" stroke="#ff0000" stroke-width="1.4"/>
<path d="M375.8,230.4 L376.3,216.9 L376.6,222.0 L376.8,223.0 L377.3,215.4 L377.8,213.3" stroke="#ff0000" stroke-width="1.4"/>
<path d="M375.6,225.6 L376.1,237.8 L376.6,223.1 L377.1,240.9 L377.8,224.3" stroke="#0000ff" stroke-width="1.3"/>
<path d="M377.8,224.3 L378.3,294.3 L378.9,222.7 L379.6,219.8" stroke="#0000ff" stroke-width="1.3"/>
<path d="M377.8,213.3 L378.3,290.3 L378.9,204.9 L379.3,223.0 L379.8,193.7" stroke="#ff0000" stroke-width="1.4"/>
<path d="M379.8,193.7 L380.3,209.9 L380.8,189.8 L381.3,194.6 L381.4,185.5 L381.8,190.6" stroke="#ff0000" stroke-width="1.4"/>
<path d="M379.6,219.8 L380.1,229.6 L380.6,217.5 L381.1,224.2 L381.4,219.0 L381.6,221.8" stroke="#0000ff" stroke-width="1.3"/>
<path d="M381.6,221.8 L382.1,240.9 L382.6,235.6 L383.1,251.5 L383.6,251.0 L383.7,254.4" stroke="#0000ff" stroke-width="1.3"/>
<path d="M381.8,190.6 L382.3,213.5 L382.8,212.9 L383.0,220.0 L383.3,221.0 L383.8,208.7" stroke="#ff0000" stroke-width="1.4"/>
<path d="M383.8,208.7 L384.3,221.0 L384.8,197.4 L385.3,201.4 L385.6,187.4 L385.8,186.3" stroke="#ff0000" stroke-width="1.4"/>
<path d="M383.7,254.4 L384.1,255.4 L384.6,239.0 L385.1,241.9 L385.6,223.7" stroke="#0000ff" stroke-width="1.3"/>
<path d="M385.6,223.7 L386.1,224.5 L386.3,213.3 L386.6,213.6 L387.1,231.0 L387.6,224.5" stroke="#0000ff" stroke-width="1.3"/>
<path d="M385.8,186.3 L386.3,198.1 L386.8,188.2 L387.3,205.4 L387.8,194.5" stroke="#ff0000" stroke-width="1.4"/>
<path d="M387.8,194.5 L388.2,196.4 L388.3,205.9 L388.8,198.7 L389.3,221.1 L389.8,206.7" stroke="#ff0000" stroke-width="1.4"/>
<path d="M387.6,224.5 L388.1,247.9 L388.6,236.5 L389.1,249.0 L389.5,248.0 L389.6,244.4" stroke="#0000ff" stroke-width="1.3"/>
<path d="M389.6,244.4 L390.1,254.7 L390.6,240.0 L391.1,246.6 L391.4,236.4 L391.6,233.2" stroke="#0000ff" stroke-width="1.3"/>
<path d="M389.8,206.7 L390.3,232.9 L390.8,214.0 L391.3,246.4 L391.4,222.0 L391.8,224.8" stroke="#ff0000" stroke-width="1.4"/>
<path d="M391.8,224.8 L392.3,245.9 L392.7,240.0" stroke="#ff0000" stroke-width="1.4"/>
<path d="M391.6,233.2 L392.1,235.5 L392.7,319.8 L393.2,234.3 L393.5,234.0" stroke="#0000ff" stroke-width="1.3"/>
<path d="M393.5,234.0 L394.1,230.1 L394.6,319.8 L395.2,222.3 L395.6,229.4" stroke="#0000ff" stroke-width="1.3"/>
<path d="M392.7,240.0 L394.6,175.2 L394.8,174.2 L395.3,189.5 L395.8,180.8" stroke="#ff0000" stroke-width="1.4"/>
<path d="M395.8,180.8 L396.3,199.6 L396.8,182.7 L397.2,187.4 L397.3,198.9 L397.8,188.7" stroke="#ff0000" stroke-width="1.4"/>
<path d="M395.6,229.4 L396.1,214.7 L396.6,222.1 L396.6,212.0 L397.1,213.6 L397.6,227.6" stroke="#0000ff" stroke-width="1.3"/>
<path d="M397.6,227.6 L398.1,216.5 L398.6,227.8 L399.2,222.2 L399.8,322.4" stroke="#0000ff" stroke-width="1.3"/>
<path d="M397.8,188.7 L398.3,205.9 L398.8,191.1 L399.2,195.7 L399.8,322.4" stroke="#ff0000" stroke-width="1.4"/>
<path d="M399.8,322.4 L400.4,200.1 L400.4,200.3 L400.8,215.4 L401.3,192.9 L401.8,214.2" stroke="#ff0000" stroke-width="1.4"/>
<path d="M399.8,322.4 L400.4,226.5 L401.0,229.0 L401.1,226.2 L401.6,240.1" stroke="#0000ff" stroke-width="1.3"/>
<path d="M401.6,240.1 L402.1,223.5 L402.6,231.8 L403.0,219.0" stroke="#0000ff" stroke-width="1.3"/>
<path d="M401.8,214.2 L402.3,188.3 L402.8,209.4 L403.0,186.1 L403.3,184.1 L403.8,199.8" stroke="#ff0000" stroke-width="1.4"/>
<path d="M403.8,199.8 L404.3,189.4 L404.8,198.7 L404.9,196.4 L404.9,260.7 L405.3,265.2" stroke="#ff0000" stroke-width="1.4"/>
<path d="M403.0,219.0 L404.3,322.4 L404.6,322.4 L405.1,322.4" stroke="#0000ff" stroke-width="1.3"/>
<path d="M590.1,322.4 L590.6,322.4 L591.1,322.4 L591.6,322.4" stroke="#0000ff" stroke-width="1.3"/>
<path d="M591.4,200.8 L591.8,218.1" stroke="#ff0000" stroke-width="1.4"/>
<path d="M591.8,218.1 L592.3,195.1 L592.8,206.8 L593.2,191.4 L593.3,189.1 L593.8,209.3" stroke="#ff0000" stroke-width="1.4"/>
<path d="M591.6,322.4 L592.1,322.4 L592.6,322.4 L593.1,322.4 L593.6,322.4" stroke="#0000ff" stroke-width="1.3"/>
<path d="M593.6,322.4 L594.1,322.4 L594.6,322.4 L595.1,322.4 L595.6,322.4" stroke="#0000ff" stroke-width="1.3"/>
<path d="M593.8,209.3 L594.3,189.2 L594.8,200.9 L595.6,189.4" stroke="#ff0000" stroke-width="1.4"/>
<path d="M595.6,189.4 L596.1,263.3 L596.6,188.5 L597.3,187.6 L597.8,205.3" stroke="#ff0000" stroke-width="1.4"/>
<path d="M595.6,322.4 L596.1,322.4 L596.6,322.4 L597.1,322.4 L597.6,322.4" stroke="#0000ff" stroke-width="1.3"/>
<path d="M597.6,322.4 L598.1,322.4 L598.6,322.4 L599.1,322.4 L599.1,322.4" stroke="#0000ff" stroke-width="1.3"/>
<path d="M597.8,205.3 L598.3,186.8 L598.8,193.6 L599.3,184.5 L599.8,198.3 L599.9,185.7" stroke="#ff0000" stroke-width="1.4"/>
<path d="M599.9,185.7 L601.8,255.7" stroke="#ff0000" stroke-width="1.4"/>
<path d="M599.1,322.4 L600.0,239.0 L600.1,236.2 L600.6,235.4 L601.1,223.7 L601.5,219.0 L601.6,229.7" stroke="#0000ff" stroke-width="1.3"/>
<path d="M601.6,229.7 L602.1,219.5 L602.6,228.7 L603.2,221.4 L603.7,321.0" stroke="#0000ff" stroke-width="1.3"/>
<path d="M601.8,255.7 L602.3,217.1 L602.4,211.8 L602.8,220.1 L603.3,205.9 L603.8,213.1" stroke="#ff0000" stroke-width="1.4"/>
<path d="M603.8,213.1 L604.3,203.6 L604.8,217.1 L605.3,200.0 L605.6,199.0 L605.8,208.4" stroke="#ff0000" stroke-width="1.4"/>
<path d="M603.7,321.0 L604.2,222.9 L605.0,224.0 L605.1,222.6 L605.6,225.6" stroke="#0000ff" stroke-width="1.3"/>
<path d="M605.6,225.6 L606.1,217.2 L606.6,219.7 L607.0,214.0 L607.1,215.8 L607.6,232.3" stroke="#0000ff" stroke-width="1.3"/>
<path d="M605.8,208.4 L606.3,194.9 L606.8,210.9 L607.3,193.4 L607.8,200.6" stroke="#ff0000" stroke-width="1.4"/>
<path d="M607.8,200.6 L608.3,190.3 L608.8,205.8 L608.8,190.0 L609.3,196.9 L609.8,213.5" stroke="#ff0000" stroke-width="1.4"/>
<path d="M607.6,232.3 L608.0,234.0 L608.1,233.4 L608.6,235.2 L609.1,228.1 L609.8,226.5" stroke="#0000ff" stroke-width="1.3"/>
<path d="M609.8,226.5 L610.3,314.4 L610.8,221.8 L611.5,219.0 L611.6,227.8" stroke="#0000ff" stroke-width="1.3"/>
<path d="M609.8,213.5 L610.3,211.9 L610.8,223.0 L610.8,222.0 L611.3,205.6 L611.8,213.4" stroke="#ff0000" stroke-width="1.4"/>
<path d="M611.8,213.4 L612.3,178.3 L612.7,170.1 L612.8,182.5 L613.3,171.4 L613.8,186.9" stroke="#ff0000" stroke-width="1.4"/>
<path d="M611.6,227.8 L612.1,214.8 L612.6,219.0 L613.1,211.7 L613.6,216.4" stroke="#0000ff" stroke-width="1.3"/>
<path d="M613.6,216.4 L614.0,209.0 L614.1,208.4 L614.6,220.2 L615.1,214.4 L615.6,226.0" stroke="#0000ff" stroke-width="1.3"/>
<path d="M613.8,186.9 L614.3,179.0 L614.8,194.3 L615.3,183.3 L615.3,186.1 L615.8,204.2" stroke="#ff0000" stroke-width="1.4"/>
<path d="M615.8,204.2 L616.3,185.4 L616.8,196.9 L617.3,185.0 L617.8,196.9" stroke="#ff0000" stroke-width="1.4"/>
<path d="M615.6,226.0 L616.1,222.9 L616.6,235.2 L617.0,229.0 L617.1,227.9 L617.6,230.0" stroke="#0000ff" stroke-width="1.3"/>
<path d="M617.6,230.0 L618.1,219.0 L618.6,226.5 L619.1,210.7 L619.6,216.0" stroke="#0000ff" stroke-width="1.3"/>
<path d="M617.8,196.9 L618.3,184.9 L618.5,186.1 L618.8,205.7 L619.3,208.1 L619.8,236.3" stroke="#ff0000" stroke-width="1.4"/>
<path d="M619.8,236.3 L620.3,234.4 L620.7,248.1 L620.8,251.9 L621.0,219.8 L621.3,216.7 L621.8,231.8" stroke="#ff0000" stroke-width="1.4"/>
<path d="M619.6,216.0 L620.1,203.2 L620.6,207.4 L621.1,195.1 L621.1,195.6 L621.6,216.2" stroke="#0000ff" stroke-width="1.3"/>
<path d="M621.6,216.2 L622.0,216.0 L622.1,215.0 L622.6,220.7 L623.1,216.1 L623.6,223.1" stroke="#0000ff" stroke-width="1.3"/>
<path d="M621.8,231.8 L622.3,216.8 L622.8,232.5 L623.3,212.7 L623.8,224.1" stroke="#ff0000" stroke-width="1.4"/>
<path d="M623.8,224.1 L624.3,213.4 L624.8,225.4 L625.3,209.9 L625.8,224.1" stroke="#ff0000" stroke-width="1.4"/>
<path d="M623.6,223.1 L624.1,215.5 L624.6,222.1 L625.1,216.1 L625.9,217.9" stroke="#0000ff" stroke-width="1.3"/>
<path d="M625.9,217.9 L626.4,279.6 L626.9,218.5 L627.6,227.3" stroke="#0000ff" stroke-width="1.3"/>
<path d="M625.8,224.1 L626.3,206.7 L626.8,223.3 L626.8,208.6 L627.3,210.0 L627.8,223.0" stroke="#ff0000" stroke-width="1.4"/>
<path d="M627.8,223.0 L628.3,218.5 L628.8,240.6 L629.3,227.6 L629.8,238.7" stroke="#ff0000" stroke-width="1.4"/>
<path d="M627.6,227.3 L628.0,219.0 L628.1,219.1 L628.6,229.1 L629.1,221.6 L629.7,223.1" stroke="#0000ff" stroke-width="1.3"/>
<path d="M629.7,223.1 L630.2,299.5 L630.8,225.9 L631.6,232.3" stroke="#0000ff" stroke-width="1.3"/>
<path d="M629.8,238.7 L630.2,234.8 L630.3,234.1 L630.8,261.9 L631.3,251.0 L631.4,252.7 L631.8,253.7" stroke="#ff0000" stroke-width="1.4"/>
<path d="M631.8,253.7 L632.3,241.4 L632.8,251.8 L633.3,227.8 L633.8,232.9" stroke="#ff0000" stroke-width="1.4"/>
<path d="M631.6,232.3 L632.0,229.0 L632.1,228.1 L632.6,236.2 L633.1,230.8 L633.6,241.5" stroke="#0000ff" stroke-width="1.3"/>
<path d="M633.6,241.5 L634.1,235.3 L634.6,247.3 L635.0,239.0 L635.1,238.6 L635.6,246.0" stroke="#0000ff" stroke-width="1.3"/>
<path d="M633.8,232.9 L634.3,217.0 L634.8,228.0 L635.3,204.1 L635.8,215.9 L635.9,198.4" stroke="#ff0000" stroke-width="1.4"/>
<path d="M635.9,198.4 L636.3,200.2 L636.8,215.7 L637.3,206.1 L637.8,227.8" stroke="#ff0000" stroke-width="1.4"/>
<path d="M635.6,246.0 L636.1,235.2 L636.6,238.2 L637.1,230.0 L637.6,239.0" stroke="#0000ff" stroke-width="1.3"/>
<path d="M637.6,239.0 L638.0,229.0 L638.1,229.9 L638.6,241.7 L639.1,242.4 L639.6,260.0" stroke="#0000ff" stroke-width="1.3"/>
<path d="M637.8,227.8 L638.3,215.0 L638.8,233.5 L639.3,221.9 L639.8,242.4" stroke="#ff0000" stroke-width="1.4"/>
<path d="M639.8,242.4 L640.3,228.8 L640.8,242.4 L641.3,236.7 L641.6,241.4 L641.8,247.0" stroke="#ff0000" stroke-width="1.4"/>
<path d="M639.6,260.0 L640.1,256.7 L640.6,266.4 L640.6,265.4 L641.1,257.5 L641.6,258.5" stroke="#0000ff" stroke-width="1.3"/>
<path d="M641.6,258.5 L642.1,245.3 L642.6,245.2 L643.0,234.0 L643.1,232.5 L643.6,239.1" stroke="#0000ff" stroke-width="1.3"/>
<path d="M641.8,247.0 L642.2,213.2 L642.3,210.0 L642.8,214.2 L643.3,203.2 L643.9,201.9" stroke="#ff0000" stroke-width="1.4"/>
<path d="M643.9,201.9 L644.4,289.1 L644.9,194.4 L645.8,206.5" stroke="#ff0000" stroke-width="1.4"/>
<path d="M643.6,239.1 L644.1,231.4 L644.6,235.8 L645.1,228.8 L645.6,238.1" stroke="#0000ff" stroke-width="1.3"/>
<path d="M645.6,238.1 L646.0,229.0 L646.1,227.6 L646.6,237.8 L647.1,230.9 L647.6,241.8" stroke="#0000ff" stroke-width="1.3"/>
<path d="M645.8,206.5 L646.3,182.2 L646.8,196.3 L647.3,176.7 L647.8,190.4" stroke="#ff0000" stroke-width="1.4"/>
<path d="M647.8,190.4 L648.3,169.0 L648.8,179.6 L649.0,166.6 L649.3,169.5 L649.8,185.5" stroke="#ff0000" stroke-width="1.4"/>
<path d="M647.6,241.8 L648.1,234.8 L648.6,245.6 L649.1,237.9 L649.5,240.8 L649.6,247.0" stroke="#0000ff" stroke-width="1.3"/>
<path d="M649.6,247.0 L650.1,239.0 L650.6,241.5 L651.1,236.2 L651.6,239.0" stroke="#0000ff" stroke-width="1.3"/>
<path d="M649.8,185.5 L650.3,182.4 L650.8,199.4 L651.3,197.3 L651.3,198.4 L651.8,209.2" stroke="#ff0000" stroke-width="1.4"/>
<path d="M651.8,209.2 L652.3,203.1 L652.8,218.0 L653.3,208.1 L653.8,230.7" stroke="#ff0000" stroke-width="1.4"/>
<path d="M651.6,239.0 L652.4,233.3 L652.9,303.0 L653.4,230.4" stroke="#0000ff" stroke-width="1.3"/>
<path d="M653.4,230.4 L654.0,229.0 L654.1,226.2 L654.6,230.0 L655.1,217.1 L655.6,217.4" stroke="#0000ff" stroke-width="1.3"/>
<path d="M653.8,230.7 L654.1,213.2 L654.3,211.7 L654.8,218.6 L655.3,204.8 L655.8,216.5" stroke="#ff0000" stroke-width="1.4"/>
<path d="M655.8,216.5 L656.3,196.2 L656.8,203.5 L657.3,191.6 L657.5,190.5 L657.8,204.3" stroke="#ff0000" stroke-width="1.4"/>
<path d="M655.6,217.4 L656.1,208.4 L656.6,215.1 L657.1,198.8 L657.6,202.1 L657.6,195.4" stroke="#0000ff" stroke-width="1.3"/>
<path d="M657.6,195.4 L658.1,202.9 L658.6,216.4 L659.0,219.0 L659.1,220.5 L659.6,234.3" stroke="#0000ff" stroke-width="1.3"/>
<path d="M657.8,204.3 L658.3,193.2 L658.8,216.0 L659.3,200.5 L659.8,210.7" stroke="#ff0000" stroke-width="1.4"/>
<path d="M659.8,210.7 L660.0,204.5 L660.3,206.9 L660.8,221.1 L661.3,216.5 L661.8,237.7" stroke="#ff0000" stroke-width="1.4"/>
<path d="M659.6,234.3 L660.1,237.8 L660.6,253.9 L661.1,254.5 L661.5,263.5 L661.6,266.9" stroke="#0000ff" stroke-width="1.3"/>
<path d="M661.6,266.9 L662.1,255.9 L662.6,256.1 L663.1,244.3 L663.6,244.3" stroke="#0000ff" stroke-width="1.3"/>
<path d="M661.8,237.7 L662.3,225.2 L662.8,240.8 L663.3,236.2 L663.8,249.5" stroke="#ff0000" stroke-width="1.4"/>
<path d="M663.8,249.5 L664.3,246.0 L664.5,248.5 L664.8,249.5 L665.3,241.8 L665.8,249.5" stroke="#ff0000" stroke-width="1.4"/>
<path d="M663.6,244.3 L664.0,234.0 L664.1,232.0 L664.6,232.1 L665.1,217.4 L665.6,220.6" stroke="#0000ff" stroke-width="1.3"/>
<path d="M665.6,220.6 L666.0,204.0 L666.1,204.7 L666.6,223.7 L667.1,219.1 L667.6,236.6" stroke="#0000ff" stroke-width="1.3"/>
<path d="M665.8,249.5 L666.3,233.2 L666.8,244.4 L667.3,227.7 L667.8,242.9" stroke="#ff0000" stroke-width="1.4"/>
<path d="M667.8,242.9 L668.3,218.6 L668.8,228.3 L669.3,212.5 L669.8,229.5 L669.8,210.6" stroke="#ff0000" stroke-width="1.4"/>
<path d="M667.6,236.6 L668.0,234.0 L668.1,233.5 L668.6,247.6 L669.1,239.0 L669.6,250.3" stroke="#0000ff" stroke-width="1.3"/>
<path d="M669.6,250.3 L670.1,243.4 L670.6,255.1 L671.1,247.3 L671.6,255.9" stroke="#0000ff" stroke-width="1.3"/>
<path d="M669.8,210.6 L670.3,212.1 L670.8,225.3 L671.3,219.3 L671.8,241.1" stroke="#ff0000" stroke-width="1.4"/>
<path d="M671.8,241.1 L672.3,222.9 L672.8,239.3 L672.9,228.8 L673.3,221.9 L673.8,229.7" stroke="#ff0000" stroke-width="1.4"/>
<path d="M671.6,255.9 L672.1,253.2 L672.6,259.5 L673.1,257.9 L673.6,264.7" stroke="#0000ff" stroke-width="1.3"/>
<path d="M673.6,264.7 L674.1,262.3 L674.4,264.6 L674.6,265.6 L675.1,259.6 L675.6,263.2" stroke="#0000ff" stroke-width="1.3"/>
<path d="M673.8,229.7 L674.3,209.3 L674.8,222.9 L675.3,194.9 L675.8,199.3" stroke="#ff0000" stroke-width="1.4"/>
<path d="M675.8,199.3 L676.3,183.5 L676.8,189.2 L677.3,169.1 L677.4,168.9 L677.8,190.4" stroke="#ff0000" stroke-width="1.4"/>
<path d="M675.6,263.2 L676.1,253.4 L676.6,257.0 L677.1,246.9 L677.6,254.4" stroke="#0000ff" stroke-width="1.3"/>
<path d="M677.6,254.4 L678.1,242.1 L678.6,244.6 L679.1,235.0 L679.6,244.1 L679.7,232.8" stroke="#0000ff" stroke-width="1.3"/>
<path d="M677.8,190.4 L678.3,177.5 L678.8,199.8 L679.3,191.2 L679.8,205.6" stroke="#ff0000" stroke-width="1.4"/>
<path d="M679.8,205.6 L680.3,202.6 L680.5,206.0 L680.8,221.2" stroke="#ff0000" stroke-width="1.4"/>
<path d="M679.7,232.8 L680.1,234.9 L680.6,247.3 L681.0,244.0 L681.1,241.1 L681.6,242.2" stroke="#0000ff" stroke-width="1.3"/>
<path d="M681.6,242.2 L682.1,234.4 L682.6,239.6 L683.1,225.0 L683.6,225.2" stroke="#0000ff" stroke-width="1.3"/>
<path d="M683.6,225.2 L684.1,216.0 L684.6,224.0 L685.1,207.4 L685.6,210.3" stroke="#0000ff" stroke-width="1.3"/>
<path d="M685.6,210.3 L686.1,199.7 L686.5,196.4 L686.6,202.0 L687.1,204.4 L687.6,221.7" stroke="#0000ff" stroke-width="1.3"/>
<path d="M687.6,221.7 L688.1,220.8 L688.6,234.8 L688.8,234.3 L689.1,228.0 L689.5,220.7" stroke="#0000ff" stroke-width="1.3"/>
</g>
<rect x="720" y="225.8" width="12.8" height="23.8" fill="#f2f2f2"/>
<line x1="721" y1="231.8" x2="731.8" y2="231.8" stroke="#ff0000" stroke-width="1.3"/>
<line x1="721" y1="243.7" x2="731.8" y2="243.7" stroke="#0000ff" stroke-width="1.3"/>
<g font-size="11.1"><text x="736.4" y="234.7">female</text><text x="736.4" y="248.1">male</text></g>
<!-- ===== Panel C ===== -->
<text x="1.1" y="399.8" font-size="28.8" textLength="19.1" lengthAdjust="spacingAndGlyphs">C</text>
<text x="170.8" y="408.6" font-size="16.2" class="b" textLength="47.7" lengthAdjust="spacingAndGlyphs">chr 02</text>
<g font-size="16.5">
<text x="81.3" y="514.7" textLength="134.7" lengthAdjust="spacingAndGlyphs">female CCS reads</text>
<text x="92.2" y="535.1" textLength="113.5" lengthAdjust="spacingAndGlyphs">coverage depth</text>
</g>
<rect x="228" y="398" width="479" height="176.7" fill="#f8f8f8"/>
<line x1="706.7" y1="398" x2="706.7" y2="574.7" stroke="#dedede" stroke-width="1.4"/>
<rect x="228.6" y="400.4" width="477.6" height="4" fill="#fff" stroke="#8a8a8a" stroke-width="0.9"/>
<rect x="282.1" y="400.2" width="2.9" height="5.1" fill="#fff" stroke="#ff1010" stroke-width="1.2"/>
<g stroke="#555" stroke-width="0.8">
<line x1="230" y1="425.4" x2="457.7" y2="425.4"/><line x1="477" y1="425.4" x2="705" y2="425.4"/>
<line x1="228.5" y1="441.2" x2="706" y2="441.2"/>
</g>
<polygon points="228.4,425.4 232,423.9 232,426.9" fill="#222"/>
<polygon points="706.5,425.4 703,423.9 703,426.9" fill="#222"/>
<line x1="228.5" y1="445.9" x2="706.5" y2="445.9" stroke="#999" stroke-width="1.9"/>
<g stroke="#666" stroke-width="0.8">
<line x1="245.4" y1="437.2" x2="245.4" y2="441"/><line x1="289.6" y1="437.2" x2="289.6" y2="441"/>
<line x1="333.7" y1="437.2" x2="333.7" y2="441"/><line x1="378" y1="437.2" x2="378" y2="441"/>
<line x1="422.3" y1="437.2" x2="422.3" y2="441"/><line x1="467.2" y1="437.2" x2="467.2" y2="441"/>
<line x1="511.1" y1="437.2" x2="511.1" y2="441"/><line x1="555.6" y1="437.2" x2="555.6" y2="441"/>
<line x1="600.3" y1="437.2" x2="600.3" y2="441"/><line x1="644.4" y1="437.2" x2="644.4" y2="441"/>
<line x1="688.9" y1="437.2" x2="688.9" y2="441"/>
</g>
<g font-size="4.6" class="b" text-anchor="middle" fill="#333" style="stroke:none">
<text x="245.4" y="435.6" textLength="13" lengthAdjust="spacingAndGlyphs">2,380 kb</text><text x="333.7" y="435.6" textLength="13" lengthAdjust="spacingAndGlyphs">2,390 kb</text><text x="422.3" y="435.6" textLength="13" lengthAdjust="spacingAndGlyphs">2,400 kb</text>
<text x="511.1" y="435.6" textLength="13" lengthAdjust="spacingAndGlyphs">2,410 kb</text><text x="600.3" y="435.6" textLength="13" lengthAdjust="spacingAndGlyphs">2,420 kb</text><text x="688.9" y="435.6" textLength="13" lengthAdjust="spacingAndGlyphs">2,430 kb</text>
<text x="467" y="427.2" font-size="5" textLength="11.6" lengthAdjust="spacingAndGlyphs">54 kb</text>
</g>
<text x="230" y="451.3" font-size="4.4" class="b ns" fill="#333" textLength="10.8" lengthAdjust="spacingAndGlyphs">[0 - 132]</text>
<polygon fill="#999999" points="228.2,574.5 228.2,467.0 229.2,465.9 230.3,464.8 231.3,465.8 232.3,463.5 233.3,464.3 234.4,463.3 235.4,463.1 236.4,461.4 237.4,462.3 238.4,460.4 239.4,461.2 240.4,459.7 241.4,459.3 242.4,459.9 243.4,460.7 244.4,459.3 245.7,459.4 247.0,461.0 248.3,463.1 249.6,464.8 250.8,465.7 251.9,467.2 253.0,466.3 254.1,465.9 255.3,467.9 256.4,465.3 257.5,467.9 258.6,467.0 259.6,467.4 260.6,468.0 261.7,468.9 262.7,470.5 263.7,472.1 265.0,475.0 266.3,476.0 267.4,475.5 268.4,477.1 269.5,477.7 270.6,477.4 271.6,478.3 272.7,478.6 274.0,479.4 275.3,481.5 276.6,485.0 277.7,483.6 278.8,484.4 279.9,483.1 281.0,482.2 282.1,482.5 283.2,481.5 284.3,481.1 285.4,481.2 286.5,483.5 287.6,483.9 288.7,483.3 289.8,485.0 290.9,485.6 292.0,486.3 293.0,488.7 294.0,489.5 295.1,489.5 296.1,492.9 297.1,492.7 298.1,492.3 299.2,494.0 300.2,495.8 301.3,494.8 302.3,496.6 303.4,497.6 304.4,497.4 305.5,500.3 306.6,501.7 307.6,502.2 308.7,503.0 309.7,504.1 310.7,502.4 311.7,503.6 312.7,503.3 313.7,503.2 314.7,502.9 315.7,504.0 316.7,504.3 317.7,503.0 318.7,503.8 319.7,505.3 320.8,504.3 321.8,507.1 322.8,507.4 323.8,507.4 324.9,508.0 325.9,507.0 326.9,505.0 328.0,504.9 329.0,505.3 330.0,502.9 331.0,503.8 332.1,502.4 333.1,503.0 334.1,502.1 335.2,502.2 336.2,504.6 337.2,502.9 338.2,503.5 339.3,504.2 340.3,505.9 341.3,503.8 342.4,505.2 343.4,505.6 344.4,505.4 345.5,506.0 346.5,505.4 347.5,505.1 348.5,503.0 349.6,503.0 350.6,502.4 351.6,503.6 352.7,503.5 353.7,501.7 354.7,500.7 355.8,500.7 356.8,500.9 357.8,500.9 358.9,501.7 359.9,502.0 360.9,501.0 361.9,500.2 363.0,501.5 364.0,501.7 365.0,501.0 366.0,501.4 367.1,502.3 368.1,501.2 369.1,500.4 370.1,500.5 371.1,500.4 372.2,498.3 373.2,500.6 374.2,499.1 375.2,498.4 376.3,497.1 377.3,495.4 378.4,492.6 379.4,491.4 380.5,490.6 381.6,489.1 382.7,490.2 383.8,487.9 384.9,487.4 386.0,487.3 387.1,487.6 388.2,485.8 389.3,485.6 390.4,484.0 391.5,483.1 392.6,482.8 393.7,481.9 394.8,482.4 395.9,481.9 397.0,480.7 398.1,483.2 399.2,482.3 400.3,480.8 401.4,481.0 402.5,481.6 403.9,482.4 403.9,532.5 404.9,531.8 405.9,531.6 407.0,530.6 408.0,532.5 409.0,532.7 410.0,530.9 411.0,530.7 412.1,529.3 413.1,529.1 414.1,530.0 415.2,530.2 416.3,530.6 417.4,532.9 418.4,531.5 419.5,531.7 420.6,533.8 421.7,534.6 422.7,532.8 423.8,531.1 424.9,531.8 425.9,529.7 427.0,530.7 428.1,531.5 429.1,530.6 430.2,529.6 431.3,527.8 432.3,527.5 433.4,527.4 434.5,526.5 435.5,528.4 436.6,527.8 437.7,528.7 438.8,527.4 439.9,527.2 440.9,529.1 442.0,529.7 443.1,529.4 444.1,529.4 445.2,529.5 446.3,528.7 447.4,529.6 448.4,528.3 449.5,529.4 450.6,529.1 451.6,528.4 452.7,528.6 453.8,529.6 454.8,529.7 455.9,531.2 457.0,532.2 458.0,530.9 459.1,531.3 460.1,532.5 461.1,532.5 462.1,532.2 463.1,530.3 464.1,529.7 465.1,529.6 466.1,529.4 467.1,529.3 468.1,530.0 469.1,530.4 470.1,531.2 471.1,531.0 472.1,529.9 473.1,530.5 474.1,530.9 475.1,528.8 476.1,530.5 477.1,530.0 478.1,531.2 479.2,530.7 480.2,530.6 481.2,529.7 482.2,528.8 483.3,530.6 484.3,529.1 485.3,530.5 486.4,531.0 487.4,529.5 488.4,529.9 489.5,530.6 490.5,532.9 491.5,532.9 492.5,532.0 493.6,532.5 494.6,533.3 495.6,536.2 496.7,536.6 497.7,536.4 498.7,535.6 499.8,537.9 500.8,538.6 501.8,537.9 502.8,537.3 503.9,538.1 504.9,537.1 505.9,537.0 506.9,540.2 508.0,539.4 509.0,539.3 510.0,540.8 511.0,539.6 512.1,541.2 513.1,540.3 514.1,542.7 515.2,542.3 516.2,543.9 517.3,545.4 518.3,547.5 519.3,546.9 520.3,548.1 521.4,547.3 522.4,548.0 523.4,547.3 524.4,549.8 525.4,548.3 526.5,548.8 527.5,549.4 528.5,549.3 529.5,550.9 530.6,549.7 531.6,551.6 532.6,550.7 533.7,551.1 534.7,551.4 535.7,550.2 536.8,551.8 537.8,551.4 538.8,551.2 539.9,553.9 540.9,552.4 541.9,553.6 543.0,554.7 544.0,554.4 545.0,555.0 546.0,554.7 547.1,555.6 548.1,556.1 549.1,557.2 550.1,555.6 551.1,557.3 552.2,556.8 553.2,557.2 554.2,558.3 555.2,559.1 556.3,558.3 557.3,558.5 558.4,559.1 559.4,558.3 560.5,559.1 561.6,557.2 562.7,557.3 563.8,556.5 564.9,556.1 566.0,556.2 567.1,555.2 568.2,554.5 569.3,554.1 570.4,553.3 571.5,554.1 572.6,552.8 573.7,552.7 574.8,551.0 575.8,552.2 576.9,550.1 577.9,550.9 578.9,551.9 580.0,551.5 581.0,549.3 582.0,549.2 583.0,550.0 584.1,548.8 585.1,550.0 586.2,548.7 587.3,547.7 588.4,549.0 589.5,548.8 590.6,548.6 591.7,545.9 592.8,547.1 593.9,545.9 595.0,546.4 596.2,544.8 597.3,547.0 598.4,547.3 599.6,545.1 600.7,545.9 601.1,497.6 602.1,498.6 603.2,496.5 604.2,496.4 605.2,497.5 606.3,496.7 607.3,494.3 608.4,494.7 609.4,494.5 610.4,493.2 611.4,491.3 612.5,489.5 613.5,488.5 614.5,488.3 615.5,484.9 616.6,485.1 617.6,483.4 618.6,482.2 619.6,480.5 620.7,481.1 621.7,481.7 622.7,481.0 623.7,479.4 624.8,481.9 625.8,480.1 626.8,479.9 627.9,479.4 628.9,475.8 629.9,475.3 631.0,473.6 632.0,473.9 633.0,473.9 634.1,471.6 635.1,470.3 636.1,470.4 637.1,471.0 638.2,469.9 639.2,467.4 640.2,466.3 641.3,467.8 642.3,465.7 643.3,466.3 644.3,467.1 645.4,465.6 646.4,465.9 647.4,468.2 648.5,467.8 649.5,467.1 650.5,468.8 651.5,470.6 652.6,470.2 653.6,471.3 654.6,469.6 655.7,472.5 656.7,471.9 657.7,469.0 658.8,469.9 659.8,467.1 660.8,465.7 661.8,464.2 662.8,463.8 663.9,463.9 664.9,461.6 665.9,461.2 667.0,461.0 668.0,462.5 669.0,461.9 670.0,461.7 671.0,462.2 672.1,462.1 673.1,463.7 674.1,461.6 675.2,460.7 676.2,459.5 677.2,459.7 678.3,457.1 679.3,456.5 680.3,457.0 681.3,456.5 682.4,457.5 683.4,458.5 684.4,456.6 685.4,456.8 686.5,455.5 687.5,457.2 688.5,456.0 689.5,456.8 690.6,456.4 691.6,457.9 692.6,459.9 693.6,458.1 694.7,460.9 695.7,460.6 696.7,462.1 697.8,464.0 698.8,465.7 699.8,466.7 700.9,465.4 701.9,465.7 703.0,466.3 704.0,465.7 705.0,469.2 706.0,469.4 707.0,471.9 707,574.5"/>
<!-- ===== Panel D ===== -->
<text x="0.6" y="614.7" font-size="28.8" textLength="19" lengthAdjust="spacingAndGlyphs">D</text>
<text x="404.1" y="615.2" font-size="16.2" class="i" textLength="44.1" lengthAdjust="spacingAndGlyphs">PCLO</text>
<path d="M127.8,638.8 Q128.5,630.9 135,630.9 L421.5,630.9 Q425.5,630.9 426.3,623.2 Q427.1,630.9 431,630.9 L717,630.9 Q724,630.9 724.6,638.4" fill="none" stroke="#222" stroke-width="1.1"/>
<text x="48.6" y="678.5" font-size="15.2" textLength="46.2" lengthAdjust="spacingAndGlyphs">chr 02</text>
<line x1="111" y1="673" x2="128.5" y2="673" stroke="#000" stroke-width="2"/><line x1="179" y1="673" x2="766.7" y2="673" stroke="#000" stroke-width="2"/>
<g>
<rect x="128" y="663.1" width="45.7" height="19.5" fill="#89cbdd"/>
<rect x="177.2" y="663.4" width="2.6" height="19.4" fill="#000"/>
<rect x="209" y="663.1" width="6.9" height="19.6" fill="#7b0b0b"/>
<rect x="254.1" y="663.1" width="30.8" height="19.6" fill="#ff2b2b"/>
<rect x="326" y="663.1" width="19.5" height="19.6" fill="#ff8585"/>
<rect x="559.9" y="663" width="14.4" height="19.7" fill="#9c842f"/>
<rect x="583.7" y="663" width="6.2" height="19.7" fill="#dcc46b"/>
<rect x="659.3" y="663" width="13.8" height="19.7" fill="#1f212b"/>
<rect x="684.6" y="663" width="14.4" height="19.7" fill="#79799b"/>
<rect x="710" y="663" width="14.2" height="19.7" fill="#0a4cb3"/>
</g>
<g font-size="10.8">
<text x="118.2" y="650.6">ATG</text>
<text x="713.4" y="650.5">TGA</text>
<text x="141.7" y="660.5">E1</text>
<text x="201.6" y="660.5">E32</text>
<text x="259.5" y="660.5">E33</text>
<text x="324.3" y="660.5">E34</text>
<text x="555.7" y="660.5">E35</text>
<text x="577.1" y="660.5">E36</text>
<text x="654.5" y="660.5">E37</text>
<text x="678.7" y="660.5">E38</text>
<text x="700.1" y="660.5">E39</text>
</g>
<g stroke="#c01a22" stroke-width="1.3" fill="none">
<line x1="128" y1="652.2" x2="128" y2="662.4"/><polyline points="124.9,659.4 128,662.8 131.1,659.4"/>
<line x1="724.2" y1="652.2" x2="724.2" y2="662.4"/><polyline points="721.1,659.4 724.2,662.8 727.3,659.4"/>
<line x1="220.6" y1="740.2" x2="220.6" y2="750.7"/><polyline points="217.5,743.2 220.6,739.8 223.7,743.2"/>
<line x1="341.9" y1="740.2" x2="341.9" y2="750.7"/><polyline points="338.8,743.2 341.9,739.8 345,743.2"/>
<line x1="384.9" y1="740.2" x2="384.9" y2="750.7"/><polyline points="381.8,743.2 384.9,739.8 388,743.2"/>
<line x1="551.2" y1="740.2" x2="551.2" y2="750.7"/><polyline points="548.1,743.2 551.2,739.8 554.3,743.2"/>
</g>
<text x="54.6" y="705.8" font-size="13.7" textLength="136.8" lengthAdjust="spacingAndGlyphs">nucleotide identity (%)</text>
<g stroke="#111" stroke-width="0.9">
<line x1="211" y1="683" x2="225.6" y2="720.2"/>
<line x1="266.3" y1="683" x2="275" y2="720.2"/>
<line x1="335.2" y1="683" x2="338.3" y2="720.2"/>
<line x1="563.2" y1="683" x2="389" y2="720.2"/>
<line x1="584.1" y1="683" x2="417.9" y2="720.2"/>
<line x1="661.2" y1="683" x2="486.1" y2="720.2"/>
<line x1="686.9" y1="683" x2="510.2" y2="720.2"/>
<line x1="711" y1="683" x2="539.1" y2="720.2"/>
</g>
<g fill="#fff">
<rect x="450.5" y="697.5" width="22" height="10"/>
<rect x="492.5" y="697.5" width="22" height="10"/>
<rect x="564.2" y="697.5" width="22" height="10"/>
<rect x="599" y="697.5" width="22" height="10"/>
<rect x="636" y="697.5" width="22" height="10"/>
</g>
<g font-size="10.6">
<text x="208.2" y="706">71.6</text>
<text x="260.7" y="706">82.3</text>
<text x="325.9" y="706">34.3</text>
<text x="451" y="706.3">77.1</text>
<text x="493.1" y="706.3">98.4</text>
<text x="564.8" y="706.5">98.5</text>
<text x="599.7" y="706.5">99.3</text>
<text x="636.5" y="706.5">99.3</text>
</g>
<text x="114.9" y="735.7" font-size="15.2" textLength="46.8" lengthAdjust="spacingAndGlyphs">chr 02</text>
<line x1="178.8" y1="729.7" x2="569.7" y2="729.7" stroke="#000" stroke-width="2"/>
<g>
<rect x="222" y="720.2" width="6.4" height="19.3" fill="#7b0b0b"/>
<rect x="262.3" y="720.2" width="26.1" height="19.3" fill="#ff0000"/>
<rect x="334.7" y="720.2" width="7.6" height="19.3" fill="#ff8585"/>
<rect x="385.9" y="720.2" width="17" height="19.3" fill="#9c842f"/>
<rect x="412.4" y="720.2" width="6.4" height="19.3" fill="#dcc46b"/>
<rect x="483.9" y="720.2" width="12.8" height="19.3" fill="#1f212b"/>
<rect x="508.8" y="720.2" width="14.9" height="19.3" fill="#79799b"/>
<rect x="536.6" y="720.2" width="14.1" height="19.3" fill="#0a4cb3"/>
</g>
<g font-size="10.8">
<text x="224.6" y="749.5">E1</text>
<text x="267.4" y="749.5">E2</text>
<text x="324.8" y="749.5">E3</text>
<text x="388.2" y="749.5">E1</text>
<text x="408.0" y="749.5">E2</text>
<text x="483.3" y="749.5">E3</text>
<text x="508.2" y="749.5">E4</text>
<text x="534.7" y="749.5">E5</text>
<text x="211.9" y="759.9">ATG</text>
<text x="334.1" y="759.9">TAG</text>
<text x="375.7" y="759.6">ATG</text>
<text x="540.9" y="759.6">TGA</text>
<text x="676.1" y="759.3">200 bp</text>
</g>
<line x1="682.2" y1="744" x2="701.5" y2="744" stroke="#000" stroke-width="2"/>
<g fill="none" stroke="#222" stroke-width="1.1">
<path d="M222.2,761.3 L222.2,767.3 Q222.2,770.3 225.2,770.3 L339.8,770.3 Q342.8,770.3 342.8,767.3 L342.8,761.3 M282.4,770.3 L282.4,777.5"/>
<path d="M385.9,762.9 L385.9,768.1 Q385.9,771.1 388.9,771.1 L547.7,771.1 Q550.7,771.1 550.7,768.1 L550.7,762.9 M468.2,771.1 L468.2,777.5"/>
</g>
<g font-size="16.2" class="i">
<text x="251.7" y="791.3" textLength="62.3" lengthAdjust="spacingAndGlyphs">PCLOL1</text>
<text x="436.3" y="791.3" textLength="62.2" lengthAdjust="spacingAndGlyphs">PCLOL2</text>
</g>
</svg>
</body></html>
